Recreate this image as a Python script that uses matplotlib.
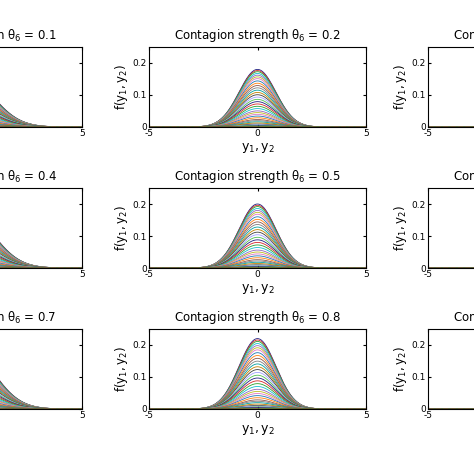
import numpy as np
import matplotlib
matplotlib.use("Agg")
import matplotlib.pyplot as plt

thetas = [[0.1, 0.2, 0.3], [0.4, 0.5, 0.6], [0.7, 0.8, 0.9]]
peaks = [[0.17, 0.18, 0.19], [0.19, 0.20, 0.21], [0.21, 0.22, 0.23]]
centers = [-0.5, 0.0, 0.0]
sigmas = [1.3, 0.85, 0.85]
frac = [1.0, 0.98, 0.96, 0.93, 0.9, 0.87, 0.84, 0.8, 0.76, 0.72, 0.68, 0.64,
        0.6, 0.56, 0.52, 0.48, 0.44, 0.40, 0.36, 0.32, 0.28, 0.25, 0.22, 0.19,
        0.16, 0.13, 0.11, 0.09, 0.07, 0.05, 0.04, 0.03, 0.02, 0.01, 0.005, 0.0]
colors = ['#1f1f80', '#d62728', '#2ca02c', '#17becf', '#9467bd', '#bcbd22',
          '#e377c2', '#1f77b4', '#ff7f0e', '#8c564b', '#7f7f7f', '#00a0a0',
          '#c08000', '#404040', '#a0a0ff', '#50c050']

fig = plt.figure(figsize=(4.74, 4.74), dpi=100)
W, H = 474.0, 474.0
lefts = [-135, 149, 428]
tops = [47, 188, 329]
aw, ah = 217, 80
x = np.linspace(-5, 5, 401)
for r in range(3):
    for c in range(3):
        ax = fig.add_axes([lefts[c] / W, 1 - (tops[r] + ah) / H, aw / W, ah / H])
        for i, f in enumerate(frac):
            y = peaks[r][c] * f * np.exp(-0.5 * ((x - centers[c]) / sigmas[c]) ** 2)
            ax.plot(x, y, color=colors[i % len(colors)], lw=0.6)
        ax.plot(x, 0 * x, color='#d04040', lw=1.0, ls='--')
        ax.set_xlim(-5, 5)
        ax.set_ylim(0, 0.25)
        ax.set_xticks([-5, 0, 5])
        ax.set_yticks([0, 0.1, 0.2])
        ax.set_xticklabels(['-5', '0', '5'])
        ax.set_yticklabels(['0', '0.1', '0.2'])
        ax.tick_params(direction='in', labelsize=6.5, length=2, pad=1.5, top=True, right=True,
                       labeltop=False, labelright=False)
        ax.set_title(r'Contagion strength $\mathregular{\theta_6}$ = %.1f' % thetas[r][c], fontsize=8.5, pad=6)
        ax.set_xlabel(r'$\mathregular{y_1, y_2}$', fontsize=9, labelpad=2)
        ax.set_ylabel(r'$\mathregular{f(y_1,y_2)}$', fontsize=8.5, labelpad=2)
fig.savefig('out.png', dpi=100)
